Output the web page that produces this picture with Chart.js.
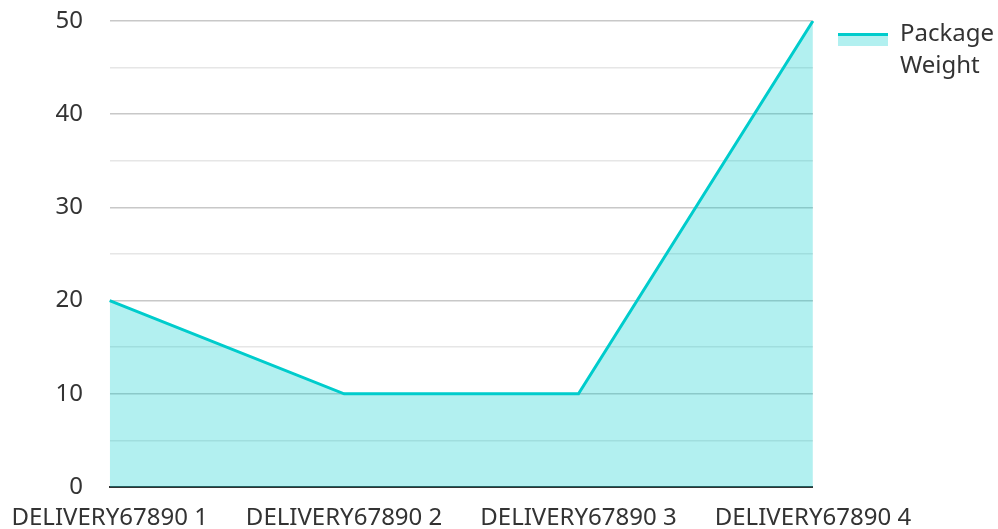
<!DOCTYPE html>
<html>
<head>
<meta charset="utf-8">
<script src="https://cdn.jsdelivr.net/npm/chart.js@4"></script>
<style>
  html, body { margin: 0; padding: 0; background: #fff; }
  #wrap { width: 998px; height: 529px; position: relative; }
</style>
</head>
<body>
<div id="wrap"><canvas id="myChart"></canvas></div>
<script>
const categories = ["DELIVERY67890 1", "DELIVERY67890 2", "DELIVERY67890 3", "DELIVERY67890 4"];
const weights = [20, 10, 10, 50];
const seriesName = ["Package", "Weight"];

const lineColour = "#00cccc";
const fillColour = "rgba(0, 204, 204, 0.3)";

// legend swatch: a line on top of a fill block
function legendSwatch() {
    const c = document.createElement('canvas');
    c.width = 50;
    c.height = 28;
    const ctx = c.getContext('2d');
    ctx.fillStyle = fillColour;
    ctx.fillRect(0, 16, 50, 10);
    ctx.fillStyle = lineColour;
    ctx.fillRect(0, 13, 50, 3);
    return c;
}

Chart.defaults.font.family = "'Noto Sans', sans-serif";
Chart.defaults.font.size = 24;
Chart.defaults.color = "#333333";

new Chart("myChart", {
    type: "line",
    data: {
        labels: categories,
        datasets: [{
            label: seriesName.join(" "),
            data: weights,
            borderColor: lineColour,
            backgroundColor: fillColour,
            borderWidth: 3,
            pointRadius: 0,
            tension: 0,
            fill: 'origin'
        }]
    },
    options: {
        responsive: true,
        maintainAspectRatio: false,
        animation: false,
        layout: {
            padding: { left: 49, top: -3, right: -6, bottom: 0 }
        },
        plugins: {
            tooltip: { enabled: false },
            legend: {
                position: "right",
                align: "start",
                labels: {
                    usePointStyle: true,
                    pointStyleWidth: 50,
                    padding: 25,
                    font: { lineHeight: 1.35 },
                    generateLabels: function(chart) {
                        return [{
                            text: seriesName,
                            pointStyle: legendSwatch(),
                            fontColor: "#333333",
                            datasetIndex: 0,
                            hidden: false,
                            lineWidth: 0
                        }];
                    }
                }
            }
        },
        scales: {
            x: {
                offset: false,
                grid: { display: false, drawTicks: false },
                border: { display: true, color: "#333333", width: 2 },
                ticks: { padding: 6, maxRotation: 0, autoSkip: false, font: { lineHeight: 2.1 } },
                afterFit: function(scale) { scale.height = 42; }
            },
            y: {
                min: 0,
                max: 50,
                border: { display: false },
                grid: {
                    drawTicks: true,
                    tickLength: 20,
                    tickColor: "rgba(0,0,0,0)",
                    color: function(ctx) {
                        if (!ctx.tick) return "#e6e6e6";
                        return ctx.tick.value % 10 === 0 ? "#c8c8c8" : "#e6e6e6";
                    },
                    lineWidth: 1.5
                },
                ticks: {
                    stepSize: 5,
                    padding: 6.6,
                    callback: function(v) { return v % 10 === 0 ? v : ''; }
                }
            }
        }
    }
});
</script>
</body>
</html>
